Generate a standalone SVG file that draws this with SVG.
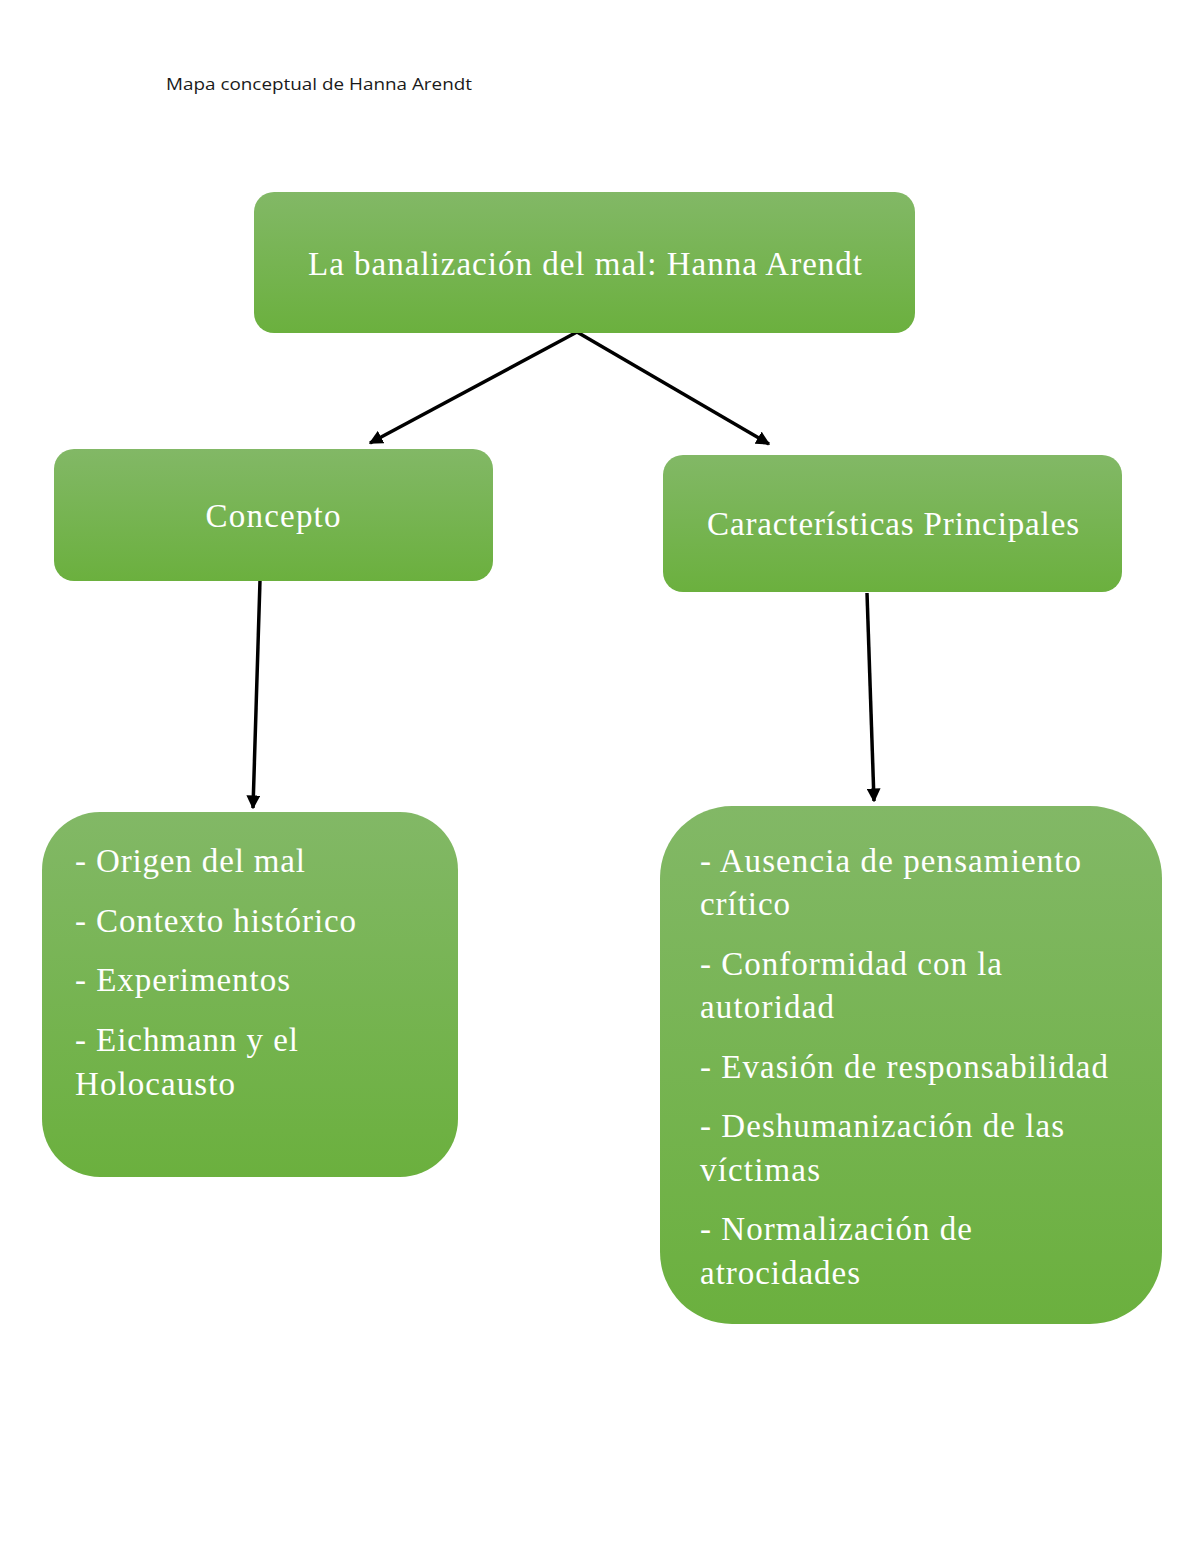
<svg xmlns="http://www.w3.org/2000/svg" width="1200" height="1553" viewBox="0 0 1200 1553">
<style>
.node rect{fill:url(#g);}
.t{font-family:"Liberation Serif","Times New Roman",serif;font-size:33px;fill:#ffffff;}
.c{text-anchor:middle;}
.edge{stroke:#000;stroke-width:3.5;fill:none;marker-end:url(#ah);}
.hdr{font-family:"Open Sans","Liberation Sans",sans-serif;font-size:17px;fill:#1a1a1a;}
</style>
<defs>
<linearGradient id="g" x1="0" y1="0" x2="0" y2="1">
<stop offset="0" stop-color="#82b866"/>
<stop offset="1" stop-color="#6bb03e"/>
</linearGradient>
<marker id="ah" viewBox="0 0 10 10" refX="9" refY="5" markerWidth="4" markerHeight="4" orient="auto" markerUnits="strokeWidth">
<path d="M0,0 L10,5 L0,10 z" fill="#000"/>
</marker>
</defs>
<rect width="1200" height="1553" fill="#fff"/>
<text class="hdr" x="166" y="90" textLength="306" lengthAdjust="spacingAndGlyphs">Mapa conceptual de Hanna Arendt</text>

<g id="connectors">
<line class="edge" x1="577" y1="332" x2="370" y2="443"/>
<line class="edge" x1="577" y1="332" x2="769" y2="444"/>
<line class="edge" x1="260" y1="580" x2="253" y2="808"/>
<line class="edge" x1="867" y1="593" x2="874" y2="801"/>
</g>

<g id="n-root" class="node">
<rect x="254" y="192" width="661" height="141" rx="20"/>
<text class="t c" x="585" y="275" textLength="554">La banalización del mal: Hanna Arendt</text>
</g>
<g id="n-concepto" class="node">
<rect x="54" y="449" width="439" height="132" rx="20"/>
<text class="t c" x="273" y="527" textLength="135">Concepto</text>
</g>
<g id="n-caracteristicas" class="node">
<rect x="663" y="455" width="459" height="137" rx="20"/>
<text class="t c" x="893" y="535" textLength="372">Características Principales</text>
</g>
<g id="n-concepto-list" class="node">
<rect x="42" y="812" width="416" height="365" rx="58"/>
<text class="t" x="75" y="872" textLength="230">- Origen del mal</text>
<text class="t" x="75" y="932" textLength="281">- Contexto histórico</text>
<text class="t" x="75" y="991" textLength="215">- Experimentos</text>
<text class="t" x="75" y="1051" textLength="223">- Eichmann y el</text>
<text class="t" x="75" y="1095" textLength="160">Holocausto</text>
</g>
<g id="n-caracteristicas-list" class="node">
<rect x="660" y="806" width="502" height="518" rx="72"/>
<text class="t" x="700" y="872" textLength="381">- Ausencia de pensamiento</text>
<text class="t" x="700" y="915" textLength="90">crítico</text>
<text class="t" x="700" y="975" textLength="302">- Conformidad con la</text>
<text class="t" x="700" y="1018" textLength="134">autoridad</text>
<text class="t" x="700" y="1078" textLength="408">- Evasión de responsabilidad</text>
<text class="t" x="700" y="1137" textLength="364">- Deshumanización de las</text>
<text class="t" x="700" y="1181" textLength="120">víctimas</text>
<text class="t" x="700" y="1240" textLength="272">- Normalización de</text>
<text class="t" x="700" y="1284" textLength="160">atrocidades</text>
</g>
</svg>
